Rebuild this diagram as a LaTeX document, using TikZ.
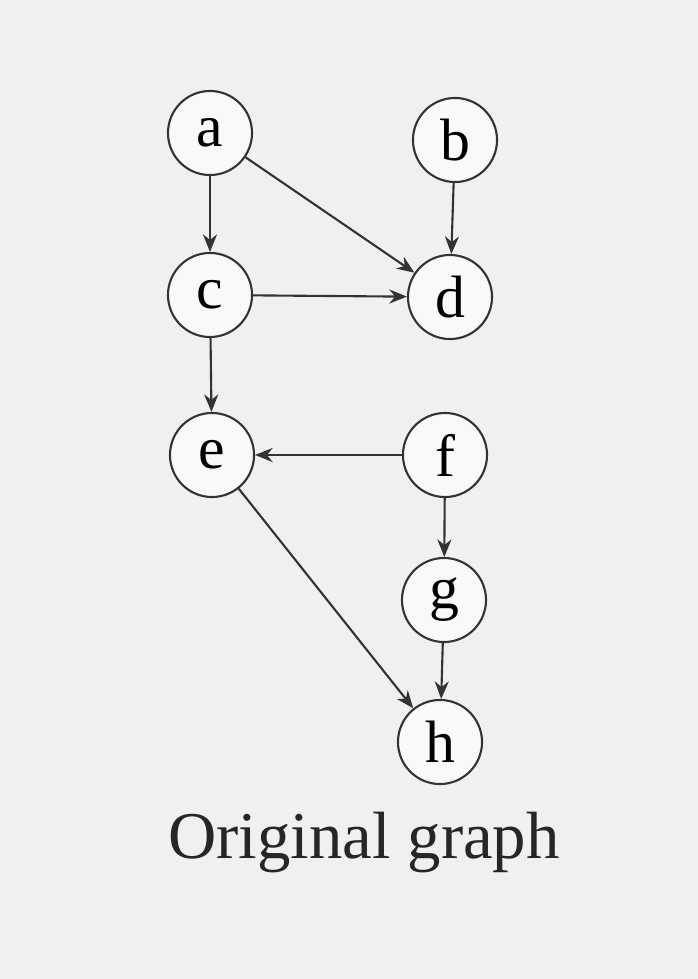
\documentclass[tikz,border=0pt]{standalone}
\usepackage{fontspec}
\setmainfont{Liberation Serif}
\usetikzlibrary{arrows.meta}
\begin{document}
\begin{tikzpicture}[x=0.01cm,y=-0.01cm,
  vtx/.style={circle,draw=black!80,line width=0.6pt,fill=white!95!gray,minimum size=0.84cm,inner sep=0pt,font=\fontsize{17}{20}\selectfont},
  edge/.style={-{Stealth[length=5pt,width=4pt]},black!80,line width=0.6pt}]
\fill[gray!12] (0,0) rectangle (698,979);
\useasboundingbox (0,0) rectangle (698,979);
\node[vtx] (a) at (210,133) {a};
\node[vtx] (b) at (455,140) {b};
\node[vtx] (c) at (210,295) {c};
\node[vtx] (d) at (450,297) {d};
\node[vtx] (e) at (212,455) {e};
\node[vtx] (f) at (445,455) {f};
\node[vtx] (g) at (444,600) {g};
\node[vtx] (h) at (440,742) {h};
\draw[edge] (a) -- (c);
\draw[edge] (a) -- (d);
\draw[edge] (b) -- (d);
\draw[edge] (c) -- (d);
\draw[edge] (c) -- (e);
\draw[edge] (f) -- (e);
\draw[edge] (f) -- (g);
\draw[edge] (g) -- (h);
\draw[edge] (e) -- (h);
\node[font=\fontsize{19}{22}\selectfont,text=black!85] (cap) at (364,843) {Original graph};
\end{tikzpicture}
\end{document}
